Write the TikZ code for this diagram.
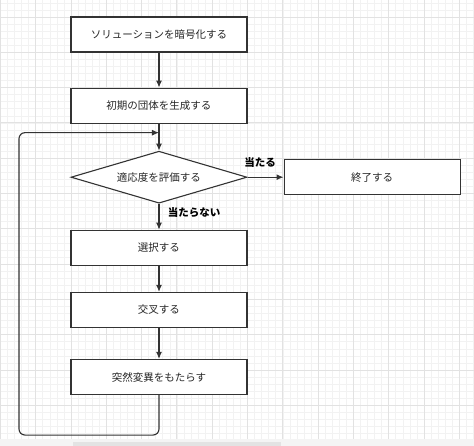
\documentclass[tikz,border=0pt]{standalone}
\usepackage{fontspec}
\setmainfont{Noto Sans CJK JP}
\usetikzlibrary{positioning, shapes.geometric, arrows.meta}

\definecolor{gridmajor}{HTML}{E2E2E2}
\definecolor{gridminor}{HTML}{F2F2F2}
\definecolor{inkline}{HTML}{333333}
\definecolor{stripgrey}{HTML}{F4F4F4}
\definecolor{bargrey}{HTML}{E3E3E3}

\begin{document}
\begin{tikzpicture}[
	> = {Latex[length = 7pt, width = 6pt]},
	font = \fontsize{10.5}{12}\selectfont,
	stepbox/.style = {draw = inkline, line width = 1.1pt, fill = white, text = black!85, minimum width = 176pt, minimum height = 35pt, inner sep = 0pt},
	decision/.style = {diamond, aspect = 3.4, draw = inkline, line width = 1.1pt, fill = white, text = black!85, minimum width = 176pt, minimum height = 52pt, inner sep = 0pt},
	flow/.style = {->, draw = inkline, line width = 1.1pt},
	answer/.style = {font = \fontsize{10.5}{12}\selectfont\bfseries}
]

	\useasboundingbox (-159pt, 34.5pt) rectangle (315pt, -411.5pt);

	% Grid paper behind the chart

	\begin{scope}
	
		\clip (-159pt, 34.5pt) rectangle (315pt, -404.5pt);
		
		\begin{scope}[shift = {(-88pt, 17.5pt)}]
			\draw [gridminor, line width = 0.6pt, step = 7.06pt] (-80pt, -430pt) grid (410pt, 30pt);
			\draw [gridmajor, line width = 0.8pt, step = 35.3pt] (-80pt, -430pt) grid (410pt, 30pt);
		\end{scope}
	
	\end{scope}
	
	\fill [stripgrey] (-159pt, -404.5pt) rectangle (315pt, -411.5pt);
	\fill [bargrey] (-86pt, -407.5pt) rectangle (122pt, -411.5pt);

	% Steps of the algorithm

	\node [stepbox] (encode) at (0, 0) {ソリューションを暗号化する};
	\node [stepbox, below = 35pt of encode] (init) {初期の団体を生成する};
	\node [decision, below = 27pt of init] (eval) {適応度を評価する};
	\node [stepbox, right = 36pt of eval] (done) {終了する};
	\node [stepbox, below = 26pt of eval] (select) {選択する};
	\node [stepbox, below = 26pt of select] (cross) {交叉する};
	\node [stepbox, below = 31pt of cross] (mutate) {突然変異をもたらす};
	
	\coordinate (join) at ([yshift = -9pt] init.south);

	% Connectors, the loop back into the evaluation
	
	\begin{scope}[flow]
	
		\draw (encode) -- (init);
		\draw (init) -- (eval);
		\draw (eval) -- node [answer, above = 6pt, pos = 0.35] {当たる} (done);
		\draw (eval) -- node [answer, right = 5pt, pos = 0.35] {当たらない} (select);
		\draw (select) -- (cross);
		\draw (cross) -- (mutate);
		
		\draw [rounded corners = 6pt] (mutate.south) -- ++(0, -40pt) -| ([xshift = -140pt] join) -- (join);
	
	\end{scope}

\end{tikzpicture}
\end{document}
